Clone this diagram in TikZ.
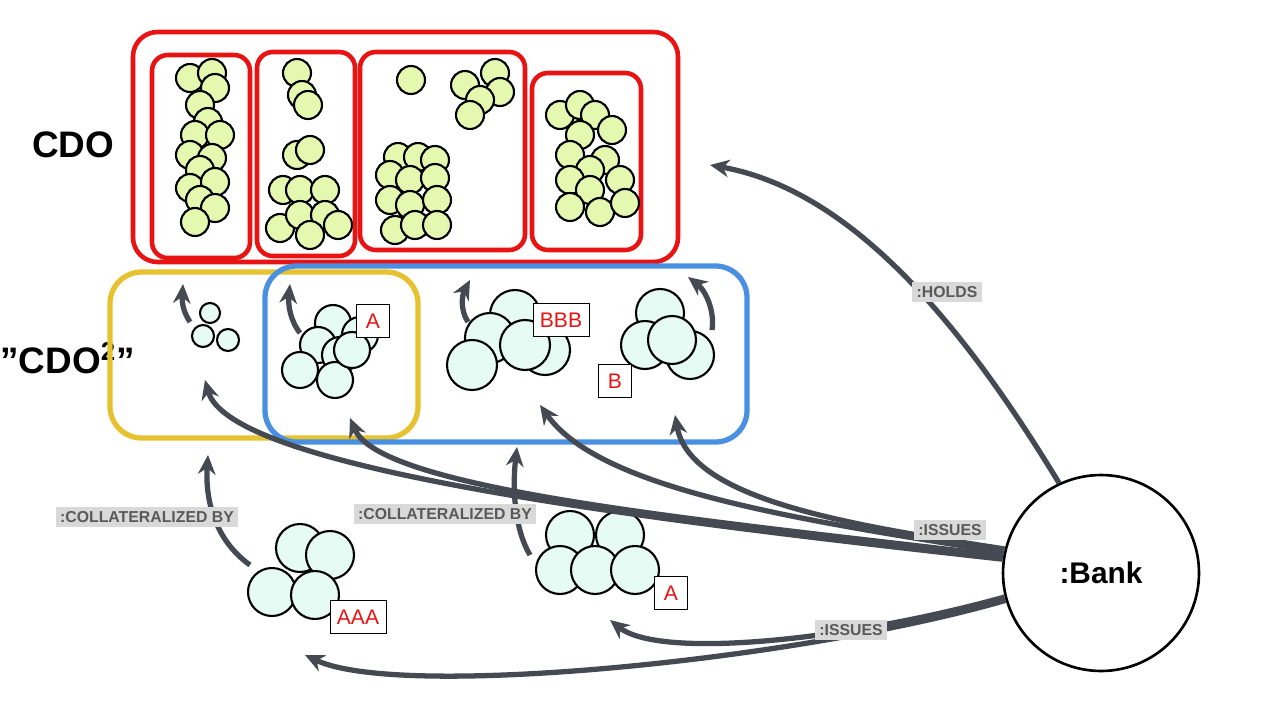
\documentclass[tikz,border=0pt]{standalone}
\usepackage{fontspec}
\setmainfont{Liberation Sans}
\setsansfont{Liberation Sans}
\usetikzlibrary{arrows.meta}
\definecolor{cdored}{HTML}{E81414}
\definecolor{gold}{HTML}{E6C230}
\definecolor{blu}{HTML}{4A90E2}
\definecolor{lgreen}{HTML}{E4F8B0}
\definecolor{lcyan}{HTML}{E6FBF4}
\definecolor{arr}{HTML}{454A52}
\definecolor{lbl}{HTML}{D9D9DA}
\begin{document}
\begin{tikzpicture}[x=0.02cm,y=-0.02cm,
  redbox/.style={draw=cdored,line width=2.6pt,rounded corners=9pt},
  g/.style={draw=black,line width=1.2pt,fill=lgreen},
  c/.style={draw=black,line width=1.2pt,fill=lcyan},
  rating/.style={draw=black,fill=white,text=cdored,font=\large,inner sep=4pt,minimum height=0.65cm,minimum width=0.65cm},
  rel/.style={fill=lbl,text=black!65,font=\bfseries\small,inner sep=2.5pt},
  ar/.style={draw=arr,line width=3pt,-{Stealth[length=11pt,width=10pt]}}]
\useasboundingbox (0,0) rectangle (1280,720);
\fill[white] (0,0) rectangle (1280,720);
% CDO boxes
\draw[redbox,rounded corners=14pt] (133,32) rectangle (678,262);
\draw[redbox] (152,55) rectangle (250,258);
\draw[redbox] (257,52) rectangle (355,256);
\draw[redbox] (360,52) rectangle (525,250);
\draw[redbox] (532,73) rectangle (641,250);
\foreach \p in {(190,78),(212,73),(215,88),(200,105),(208,122),(195,135),(220,135),(190,155),(212,158),(200,170),(190,188),(215,182),(200,200),(215,208),(195,222),
(297,73),(302,95),(308,105),(297,155),(310,150),(283,190),(300,190),(325,190),(280,228),(300,215),(325,215),(338,225),(310,235),
(411,80),(465,85),(495,73),(500,92),(480,100),(470,115),(398,157),(418,157),(435,160),(390,175),(410,180),(435,178),(390,200),(410,205),(437,200),(395,230),(415,225),(437,225),
(560,115),(580,105),(595,115),(612,130),(580,135),(570,155),(605,160),(590,170),(570,180),(590,190),(620,180),(570,207),(600,212),(625,203)}
  \draw[g] \p circle (14);
\node[font=\bfseries\fontsize{21}{26}\selectfont] (cdo) at (73,145) {CDO};
\node[anchor=west,inner sep=0pt,font=\bfseries\fontsize{21}{26}\selectfont] (cdo2) at (0,358) {\symbol{34}CDO\textsuperscript{2}\symbol{34}};
% CDO2 boxes
\draw[gold,line width=3pt,rounded corners=18pt] (110,272) rectangle (418,438);
\draw[blu,line width=3pt,rounded corners=18pt] (265,266) rectangle (747,442);
% clusters
\foreach \p/\r in {(210,313)/10,(203,336)/11,(228,340)/11}
  \draw[c] \p circle (\r);
\foreach \p in {(333,323),(360,335),(318,345),(340,355),(300,370),(335,380),(352,350)}
  \draw[c] \p circle (18);
\foreach \p in {(515,315),(490,338),(545,350),(472,365),(525,345)}
  \draw[c] \p circle (25);
\foreach \p in {(660,313),(645,345),(690,355),(672,340)}
  \draw[c] \p circle (24);
\foreach \p in {(300,548),(330,555),(272,592),(315,595)}
  \draw[c] \p circle (24);
\foreach \p in {(570,535),(620,535),(560,570),(595,570),(635,570)}
  \draw[c] \p circle (24);
% ratings
\node[rating] (ra) at (373,321) {A};
\node[rating] (rbbb) at (561,320) {BBB};
\node[rating] (rb) at (615,381) {B};
\node[rating] (raaa) at (358,617) {AAA};
\node[rating] (ra2) at (671,593) {A};
% bank
\node[draw,circle,line width=1.5pt,minimum size=3.92cm,inner sep=0pt,font=\bfseries\fontsize{17}{20}\selectfont] (bank) at (1101,573) {:Bank};
\coordinate (tholds) at (710,165);
\coordinate (t1) at (205,380); \coordinate (t2) at (350,418);
\coordinate (t3) at (540,405); \coordinate (t4) at (675,415);
\coordinate (t5) at (208,455); \coordinate (t6) at (517,447);
\coordinate (t7) at (305,655); \coordinate (t8) at (610,620);
% arrows
\draw[ar] (bank.115) .. controls (960,320) and (850,190) .. (tholds);
\draw[ar] (bank.172) .. controls (650,520) and (230,470) .. (t1);
\draw[ar] (bank.170) .. controls (700,520) and (380,490) .. (t2);
\draw[ar] (bank.168) .. controls (800,520) and (600,490) .. (t3);
\draw[ar] (bank.166) .. controls (850,525) and (690,500) .. (t4);
\draw[ar] (bank.196) .. controls (800,660) and (400,700) .. (t7);
\draw[ar] (bank.194) .. controls (850,640) and (660,660) .. (t8);
\draw[ar] (250,565) .. controls (215,540) and (205,500) .. (t5);
\draw[ar] (530,555) .. controls (515,530) and (512,490) .. (t6);
\draw[ar] (190,322) .. controls (182,310) and (182,300) .. (183,284);
\draw[ar] (300,333) .. controls (290,320) and (288,305) .. (290,284);
\draw[ar] (468,322) .. controls (460,310) and (462,295) .. (470,280);
\draw[ar] (712,330) .. controls (715,310) and (705,290) .. (688,277);
% relation labels
\node[rel] (lh) at (947,292) {:HOLDS};
\node[rel] (lc1) at (147,517) {:COLLATERALIZED BY};
\node[rel] (lc2) at (445,514) {:COLLATERALIZED BY};
\node[rel] (li1) at (950,530) {:ISSUES};
\node[rel] (li2) at (851,630) {:ISSUES};
\end{tikzpicture}
\end{document}
